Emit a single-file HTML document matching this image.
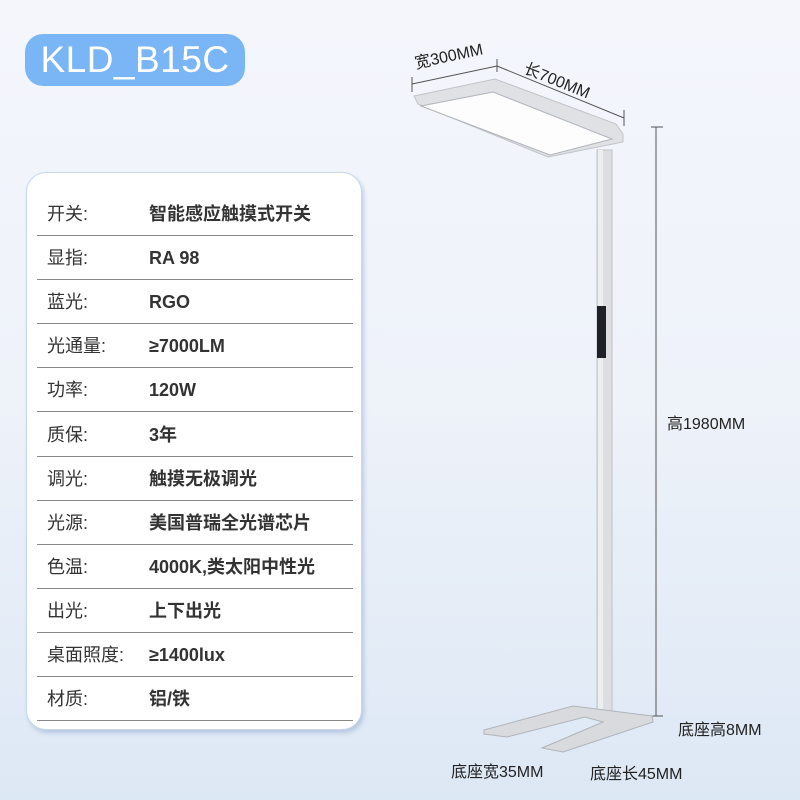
<!DOCTYPE html>
<html><head><meta charset="utf-8"><style>
body{margin:0;width:800px;height:800px;overflow:hidden;font-family:"Liberation Sans","Noto Sans CJK SC",sans-serif;background:linear-gradient(#f4f6fc 0%,#eef2f9 50%,#dde8f5 100%);position:relative}
.badge{position:absolute;left:25px;top:34px;width:220px;height:52px;border-radius:18px;background:#7ab6f5;color:#fff;font-size:37px;line-height:52px;text-align:center;letter-spacing:0.5px}
.card{position:absolute;left:26px;top:172px;width:336px;height:558px;border-radius:20px;background:#fff;border:1px solid #c8d8ee;box-shadow:2px 3px 4px rgba(120,150,190,.4);box-sizing:border-box}
.row{position:absolute;left:10px;width:316px;height:44px;border-bottom:1.5px solid #888;font-size:18px;color:#333;line-height:46px}
.row .l{position:absolute;left:10px;top:0}
.row .v{position:absolute;left:112px;top:0;font-weight:bold;color:#333}
.t{position:absolute;font-size:16px;color:#222;white-space:nowrap}
</style></head><body>
<div class="badge">KLD_B15C</div>
<div class="card">
<div class="row" style="top:18px"><span class="l">开关:</span><span class="v">智能感应触摸式开关</span></div>
<div class="row" style="top:62px"><span class="l">显指:</span><span class="v">RA 98</span></div>
<div class="row" style="top:106px"><span class="l">蓝光:</span><span class="v">RGO</span></div>
<div class="row" style="top:150px"><span class="l">光通量:</span><span class="v">≥7000LM</span></div>
<div class="row" style="top:194px"><span class="l">功率:</span><span class="v">120W</span></div>
<div class="row" style="top:239px"><span class="l">质保:</span><span class="v">3年</span></div>
<div class="row" style="top:283px"><span class="l">调光:</span><span class="v">触摸无极调光</span></div>
<div class="row" style="top:327px"><span class="l">光源:</span><span class="v">美国普瑞全光谱芯片</span></div>
<div class="row" style="top:371px"><span class="l">色温:</span><span class="v">4000K,类太阳中性光</span></div>
<div class="row" style="top:415px"><span class="l">出光:</span><span class="v">上下出光</span></div>
<div class="row" style="top:459px"><span class="l">桌面照度:</span><span class="v">≥1400lux</span></div>
<div class="row" style="top:503px"><span class="l">材质:</span><span class="v">铝/铁</span></div>
</div>
<svg width="800" height="800" style="position:absolute;left:0;top:0">
<g stroke="#555" stroke-width="1" fill="none">
<line x1="412" y1="84" x2="497" y2="66"/><line x1="412" y1="77" x2="412" y2="92"/><line x1="497" y1="59" x2="497" y2="72"/>
<line x1="497" y1="66" x2="624" y2="118"/><line x1="624" y1="110" x2="624" y2="126"/>
<line x1="656" y1="127" x2="656" y2="716"/><line x1="651" y1="127" x2="663" y2="127"/><line x1="651" y1="716" x2="663" y2="716"/>
</g>
<polygon points="414,96 495,79 616,124 623,134 623,142 548,157 418,104" fill="#dfe1e5" stroke="#c0c3c8"/>
<polygon points="421,106 493,92 612,139 550,155" fill="#fdfdfe" stroke="#b0b4ba"/>
<polygon points="597,150 612,150 612,718 597,718" fill="#dcdee2" stroke="#bfc2c7"/>
<rect x="598" y="150" width="5" height="568" fill="#eceef0"/>
<rect x="597" y="306" width="9" height="52" fill="#1e2228"/>
<polygon points="484,730 573,706 652,716 653,722 563,752 542,748 603,722 585,717 507,737 484,734" fill="#d8dadd" stroke="#b0b4ba"/>
</svg>
<div class="t" style="left:412px;top:50px;transform:rotate(-12deg);transform-origin:left top">宽300MM</div>
<div class="t" style="left:530px;top:55px;transform:rotate(22deg);transform-origin:left top">长700MM</div>
<div class="t" style="left:667px;top:410px">高1980MM</div>
<div class="t" style="left:678px;top:716px">底座高8MM</div>
<div class="t" style="left:451px;top:758px">底座宽35MM</div>
<div class="t" style="left:590px;top:760px">底座长45MM</div>
</body></html>
